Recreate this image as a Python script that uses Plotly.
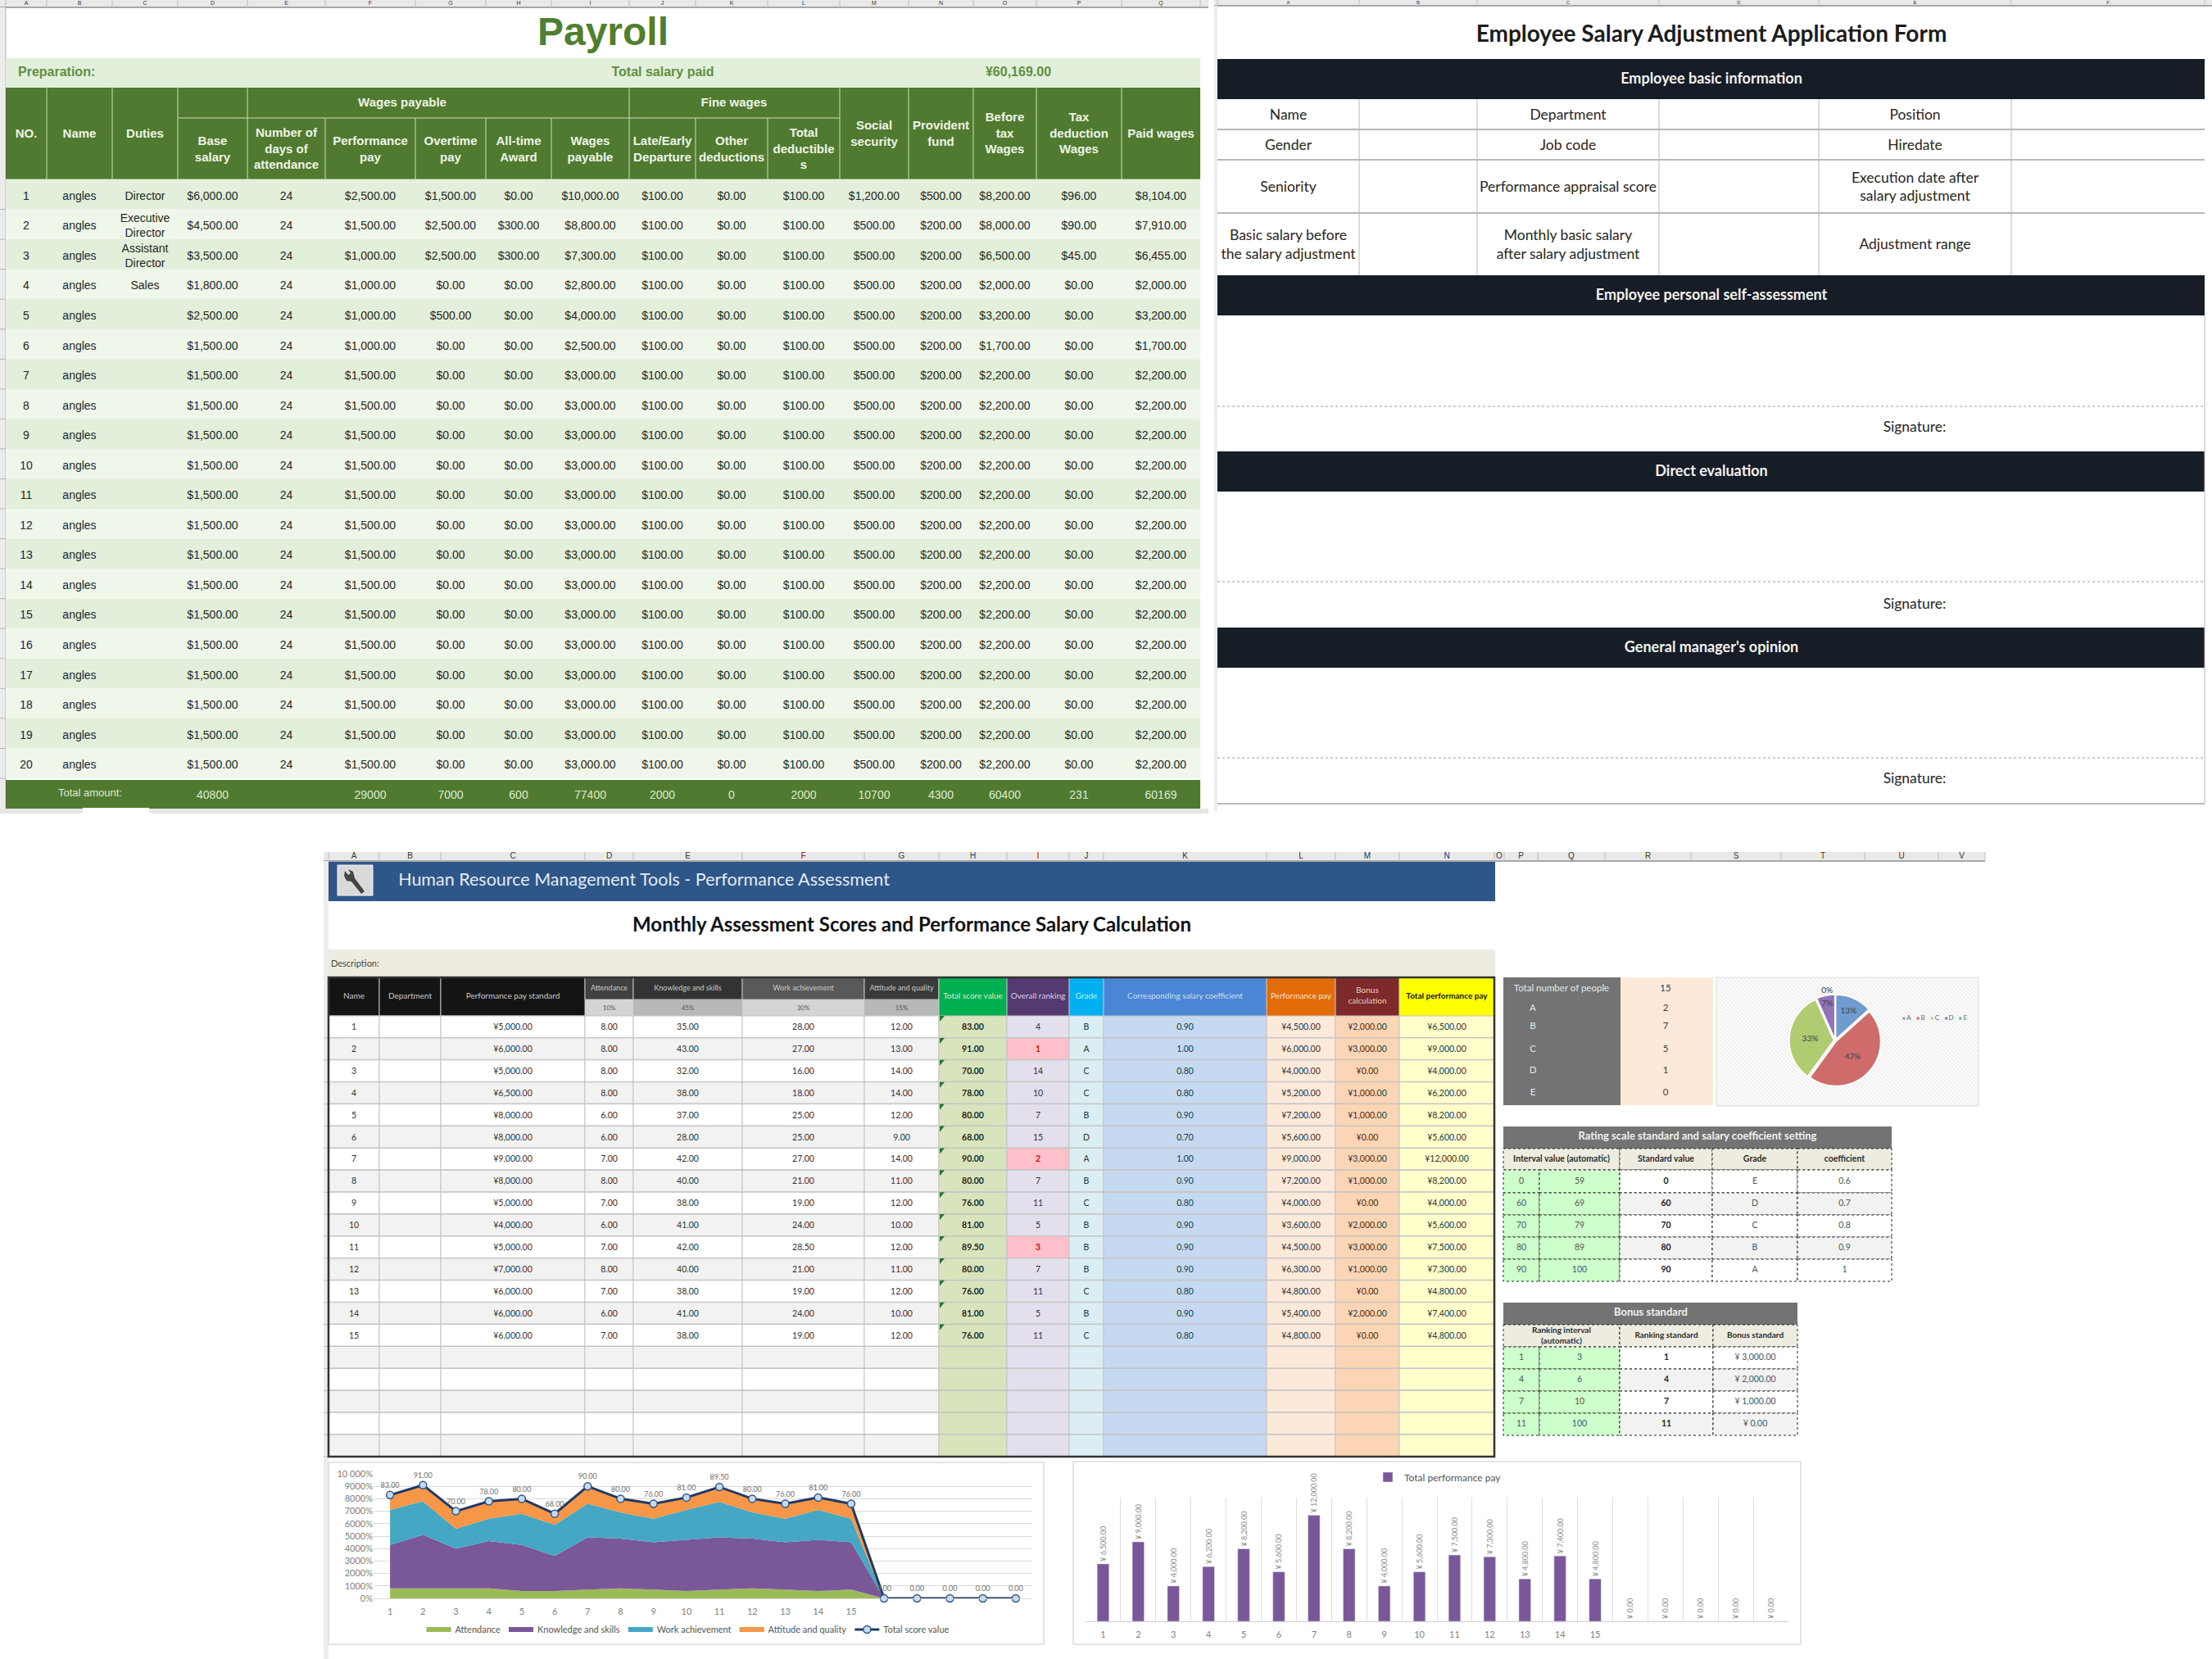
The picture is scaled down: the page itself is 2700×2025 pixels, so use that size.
import plotly.graph_objects as go

# ---- payroll sheet data
duties = ["Director", "Executive<br>Director", "Assistant<br>Director", "Sales"]
base_salary = [6000, 4500, 3500, 1800, 2500, 1500, 1500, 1500, 1500, 1500, 1500, 1500, 1500, 1500, 1500, 1500, 1500, 1500, 1500, 1500]
perf_pay = [2500, 1500, 1000, 1000, 1000, 1000, 1500, 1500, 1500, 1500, 1500, 1500, 1500, 1500, 1500, 1500, 1500, 1500, 1500, 1500]
overtime = [1500, 2500, 2500, 0, 500, 0, 0, 0, 0, 0, 0, 0, 0, 0, 0, 0, 0, 0, 0, 0]
alltime = [0, 300, 300, 0, 0, 0, 0, 0, 0, 0, 0, 0, 0, 0, 0, 0, 0, 0, 0, 0]
wages_payable = [10000, 8800, 7300, 2800, 4000, 2500, 3000, 3000, 3000, 3000, 3000, 3000, 3000, 3000, 3000, 3000, 3000, 3000, 3000, 3000]
social = [1200, 500, 500, 500, 500, 500, 500, 500, 500, 500, 500, 500, 500, 500, 500, 500, 500, 500, 500, 500]
fund = [500, 200, 200, 200, 200, 200, 200, 200, 200, 200, 200, 200, 200, 200, 200, 200, 200, 200, 200, 200]
before_tax = [8200, 8000, 6500, 2000, 3200, 1700, 2200, 2200, 2200, 2200, 2200, 2200, 2200, 2200, 2200, 2200, 2200, 2200, 2200, 2200]
tax = [96, 90, 45, 0, 0, 0, 0, 0, 0, 0, 0, 0, 0, 0, 0, 0, 0, 0, 0, 0]
paid = [8104, 7910, 6455, 2000, 3200, 1700, 2200, 2200, 2200, 2200, 2200, 2200, 2200, 2200, 2200, 2200, 2200, 2200, 2200, 2200]
payroll_totals = ["40800", "", "29000", "7000", "600", "77400", "2000", "0", "2000", "10700", "4300", "60400", "231", "60169"]

# ---- assessment sheet data
pay_standard = [5000, 6000, 5000, 6500, 8000, 8000, 9000, 8000, 5000, 4000, 5000, 7000, 6000, 6000, 6000]
attendance = [8, 8, 8, 8, 6, 6, 7, 8, 7, 6, 7, 8, 7, 6, 7]
knowledge = [35, 43, 32, 38, 37, 28, 42, 40, 38, 41, 42, 40, 38, 41, 38]
achievement = [28, 27, 16, 18, 25, 25, 27, 21, 19, 24, 28.5, 21, 19, 24, 19]
attitude = [12, 13, 14, 14, 12, 9, 14, 11, 12, 10, 12, 11, 12, 10, 12]
total_score = [83, 91, 70, 78, 80, 68, 90, 80, 76, 81, 89.5, 80, 76, 81, 76]
ranking = [4, 1, 14, 10, 7, 15, 2, 7, 11, 5, 3, 7, 11, 5, 11]
grade = ["B", "A", "C", "C", "B", "D", "A", "B", "C", "B", "B", "B", "C", "B", "C"]
coefficient = [0.9, 1.0, 0.8, 0.8, 0.9, 0.7, 1.0, 0.9, 0.8, 0.9, 0.9, 0.9, 0.8, 0.9, 0.8]
performance = [4500, 6000, 4000, 5200, 7200, 5600, 9000, 7200, 4000, 3600, 4500, 6300, 4800, 5400, 4800]
bonus = [2000, 3000, 0, 1000, 1000, 0, 3000, 1000, 0, 2000, 3000, 1000, 0, 2000, 0]
total_pay = [6500, 9000, 4000, 6200, 8200, 5600, 12000, 8200, 4000, 5600, 7500, 7300, 4800, 7400, 4800]
blank_rows = [0, 0, 0, 0, 0]

grade_names = ["A", "B", "C", "D", "E"]
grade_counts = [2, 7, 5, 1, 0]
grade_colors = ["#6f9bd0", "#cf6b6b", "#b0cb70", "#9273b5", "#4bacc6"]
rating_low = [0, 60, 70, 80, 90]
rating_high = [59, 69, 79, 89, 100]
rating_std = [0, 60, 70, 80, 90]
rating_grade = ["E", "D", "C", "B", "A"]
rating_coef = ["0.6", "0.7", "0.8", "0.9", "1"]
bonus_low = [1, 4, 7, 11]
bonus_high = [3, 6, 10, 100]
bonus_std = [1, 4, 7, 11]
bonus_money = [3000, 2000, 1000, 0]

W, H = 2700, 2025
ARIAL = "Liberation Sans"
LATO = "Lato"

shapes = []
tx, ty, tt, ts, tc, tf, tp = [], [], [], [], [], [], []


def rect(x0, y0, x1, y1, fill=None, line=None, width=1, dash=None):
    s = dict(type="rect", x0=x0, y0=y0, x1=x1, y1=y1, xref="x", yref="y", layer="below", line=dict(width=0))
    if fill:
        s["fillcolor"] = fill
    if line:
        s["line"] = dict(color=line, width=width)
        if dash:
            s["line"]["dash"] = dash
    shapes.append(s)


def seg(x0, y0, x1, y1, color, width=1, dash=None):
    ln = dict(color=color, width=width)
    if dash:
        ln["dash"] = dash
    shapes.append(dict(type="line", x0=x0, y0=y0, x1=x1, y1=y1, xref="x", yref="y", layer="below", line=ln))


def label(x, y, s, size, color="#222222", font=LATO, bold=False, pos="middle center"):
    tx.append(x)
    ty.append(y)
    tt.append("<b>" + s + "</b>" if bold else s)
    ts.append(size)
    tc.append(color)
    tf.append(font)
    tp.append(pos)


def column_strip(x0, x1, y0, y1, edges, letters, size=11):
    rect(x0, y0, x1, y1, fill="#e9e9e9")
    seg(x0, y1, x1, y1, "#8c8c8c", 1.5)
    for a in edges:
        seg(a, y0, a, y1, "#bdbdbd")
    for a, b, c in zip(edges[:-1], edges[1:], letters):
        label((a + b) / 2, (y0 + y1) / 2, c, size, "#333333", ARIAL)


# ---- payroll sheet
pc = [7, 57, 137, 217, 302, 397, 507, 593, 673, 768, 849, 937, 1025, 1109, 1188, 1265, 1369, 1465]
GREEN = "#507a2f"
column_strip(0, 1475, 0, 9, pc[:-1] + [1465], list("ABCDEFGHIJKLMNOPQ"), 7)
rect(0, 9, 7, 990, fill="#ececec")
seg(7, 9, 7, 990, "#b5b5b5")
rect(7, 71, 1465, 107, fill="#e2efda")
label(736, 43, "<b>Payroll</b>", 48, "#4f7f2f", ARIAL)
label(22, 89, "Preparation:", 16, "#5f8f3e", ARIAL, True, "middle right")
label(809, 89, "Total salary paid", 16, "#5f8f3e", ARIAL, True)
label(1243, 89, "¥60,169.00", 16, "#5f8f3e", ARIAL, True)
rect(7, 107, 1465, 219, fill=GREEN)
HL = "#c9dfb8"
for a in pc[1:-1]:
    if a in (397, 507, 593, 673, 849, 937):
        seg(a, 144, a, 219, HL)
    else:
        seg(a, 107, a, 219, HL)
seg(217, 144, 1025, 144, HL)
seg(7, 219, 1465, 219, HL)
for a, b, s in [(7, 57, "NO."), (57, 137, "Name"), (137, 217, "Duties"), (1369, 1465, "Paid wages"), (1109, 1188, "Provident<br>fund"),
                (1025, 1109, "Social<br>security"), (1188, 1265, "Before<br>tax<br>Wages"), (1265, 1369, "Tax<br>deduction<br>Wages")]:
    label((a + b) / 2, 164, s, 15, "#eef5e6", ARIAL, True)
label(491, 126, "Wages payable", 15, "#eef5e6", ARIAL, True)
label(896, 126, "Fine wages", 15, "#eef5e6", ARIAL, True)
sub_heads = ["Base<br>salary", "Number of<br>days of<br>attendance", "Performance<br>pay", "Overtime<br>pay", "All-time<br>Award",
             "Wages<br>payable", "Late/Early<br>Departure", "Other<br>deductions", "Total<br>deductible<br>s"]
for a, b, s in zip(pc[3:12], pc[4:13], sub_heads):
    label((a + b) / 2, 183, s, 15, "#eef5e6", ARIAL, True)

ROW = 36.55
for i in range(20):
    y0 = 219 + i * ROW
    yc = y0 + ROW / 2 + 3
    rect(7, y0, 1465, y0 + ROW, fill="#e2efda" if i % 2 == 0 else "#eff6ea")
    seg(0, y0 + ROW, 7, y0 + ROW, "#b5b5b5")
    row_text = [str(i + 1), "angles", duties[i] if i < len(duties) else "",
                f"${base_salary[i]:,.2f}", "24", f"${perf_pay[i]:,.2f}", f"${overtime[i]:,.2f}", f"${alltime[i]:,.2f}",
                f"${wages_payable[i]:,.2f}", "$100.00", "$0.00", "$100.00", f"${social[i]:,.2f}", f"${fund[i]:,.2f}",
                f"${before_tax[i]:,.2f}", f"${tax[i]:,.2f}", f"${paid[i]:,.2f}"]
    for a, b, s in zip(pc[:-1], pc[1:], row_text):
        if s:
            label((a + b) / 2, yc, s, 14, "#262626", ARIAL)
rect(7, 952, 1465, 987, fill=GREEN)
label(110, 969, "Total amount:", 13, "#dfead3", ARIAL)
for a, b, s in zip(pc[3:-1], pc[4:], payroll_totals):
    if s:
        label((a + b) / 2, 971, s, 14, "#dfead3", ARIAL)
rect(0, 987, 1475, 993, fill="#e6e6e6")
rect(101, 986, 182, 993, fill="#ffffff")

# ---- salary adjustment form
fc = [1486, 1659, 1803, 2025, 2220, 2455, 2691]
column_strip(1482, 2700, 0, 7, fc, list("ABCDEF"), 6)
rect(1482, 7, 1486, 990, fill="#ececec")
label(2089, 44, "Employee Salary Adjustment Application Form", 28, "#1c1c1c", LATO, True)
DARK = "#171d26"
GRID = "#b8b8b8"
bands = [(72, 121, "Employee basic information"), (336, 385, "Employee personal self-assessment"),
         (551, 600, "Direct evaluation"), (766, 815, "General manager's opinion")]
for y0, y1, s in bands:
    rect(1486, y0, 2691, y1, fill=DARK)
    label(2089, (y0 + y1) / 2 + 1, s, 18, "#f2f2f2", LATO, True)
form_rows = [121, 158, 195, 260, 336]
form_labels = [["Name", "Department", "Position"], ["Gender", "Job code", "Hiredate"],
               ["Seniority", "Performance appraisal score", "Execution date after<br>salary adjustment"],
               ["Basic salary before<br>the salary adjustment", "Monthly basic salary<br>after salary adjustment", "Adjustment range"]]
for y in form_rows[1:-1]:
    seg(1486, y, 2691, y, GRID, 2)
for a in fc[1:-1]:
    seg(a, 121, a, 336, GRID)
for r, names in enumerate(form_labels):
    yc = (form_rows[r] + form_rows[r + 1]) / 2 + 2
    for k, s in enumerate(names):
        label((fc[k * 2] + fc[k * 2 + 1]) / 2, yc, s, 17.5, "#262626", LATO)
for dash_y, sign_y in [(496, 523), (710, 739), (925, 952)]:
    seg(1486, dash_y, 2691, dash_y, "#9a9a9a", 1, "dot")
    label(2337, sign_y, "Signature:", 17.5, "#262626", LATO)
seg(1486, 981, 2691, 981, GRID, 2)
seg(2691, 385, 2691, 981, GRID)

# ---- assessment sheet
ac = [401, 463, 538, 714, 773, 906, 1055, 1146, 1229, 1305, 1347, 1546, 1630, 1708, 1824]
column_strip(395, 2423, 1040, 1051, ac + [1836, 1877, 1959, 2064, 2174, 2276, 2366, 2423], list("ABCDEFGHIJKLMNOPQRSTUV"), 10)
rect(395, 1051, 401, 2025, fill="#ececec")
rect(401, 1052, 1825, 1100, fill="#2f5688")
rect(412, 1056, 455, 1093, fill="#d9d9d9", line="#f5f5f5", width=1)
shapes.append(dict(type="path", xref="x", yref="y", layer="below", fillcolor="#454545", line=dict(width=0),
                   path="M421 1063 L425 1068 L428 1066 L425 1061 L431 1064 L433 1072 L445 1088 L441 1091 L429 1076 L423 1075 L420 1069 Z"))
label(786, 1076, "Human Resource Management Tools - Performance Assessment", 21.5, "#e3ebf5", LATO)
label(1113, 1131, "Monthly Assessment Scores and Performance Salary Calculation", 24, "#111111", LATO, True)
rect(401, 1159, 1825, 1192, fill="#eeece1")
label(404, 1177, "Description:", 11, "#444444", LATO, False, "middle right")

HY0, HY1, HY2 = 1193, 1220, 1240
for k, s in enumerate(["Name", "Department", "Performance pay standard"]):
    rect(ac[k], HY0, ac[k + 1], HY2, fill="#141414", line="#bdbdbd")
    label((ac[k] + ac[k + 1]) / 2, 1216, s, 10, "#c9c9c9")
score_heads = ["Attendance", "Knowledge and skills", "Work achievement", "Attitude and quality"]
score_pct = ["10%", "45%", "30%", "15%"]
top_fill = ["#404040", "#333333", "#595959", "#3a3a3a"]
low_fill = ["#d4d4d4", "#b8b8b8", "#d4d4d4", "#b8b8b8"]
for k in range(4):
    a, b = ac[3 + k], ac[4 + k]
    rect(a, HY0, b, HY1, fill=top_fill[k], line="#bdbdbd")
    rect(a, HY1, b, HY2, fill=low_fill[k])
    label((a + b) / 2, 1207, score_heads[k], 9, "#c9c9c9")
    label((a + b) / 2, 1231, score_pct[k], 8, "#555555")
right_heads = [("Total score value", "#00b050", "#d5f0d5"), ("Overall ranking", "#543a6e", "#d9cfe6"), ("Grade", "#00b0f0", "#c9ecfa"),
               ("Corresponding salary coefficient", "#4a86d4", "#cfdff5"), ("Performance pay", "#e36c0a", "#fbe3cf"),
               ("Bonus<br>calculation", "#7f2a2a", "#e8caca"), ("Total performance pay", "#ffff00", "#111111")]
for k, (s, fill, txt) in enumerate(right_heads):
    a, b = ac[7 + k], ac[8 + k]
    rect(a, HY0, b, HY2, fill=fill)
    seg(a, HY0, a, HY2, "#d0d0d0")
    label((a + b) / 2, 1216, s, 10, txt, LATO, k == 6)

col_fill = ["#d8e4bc", "#e4dfec", "#daeef3", "#c5d9f1", "#fde9d9", "#fcd5b4", "#ffffcc"]
R2 = 26.9
for i in range(20):
    y0 = HY2 + i * R2
    y1 = y0 + R2
    yc = (y0 + y1) / 2 + 1
    for k in range(7):
        rect(ac[k], y0, ac[k + 1], y1, fill="#ffffff" if i % 2 == 0 else "#f2f2f2", line="#c4c4c4", width=1)
    for k in range(7):
        fill = col_fill[k]
        if k == 1 and i < 15 and ranking[i] <= 3:
            fill = "#ffc0cb"
        rect(ac[7 + k], y0, ac[8 + k], y1, fill=fill, line="#c4c4c4", width=1)
    seg(401, y1, 1824, y1, "#c4c4c4", 2)
    seg(395, y1, 401, y1, "#bdbdbd")
    if i >= 15:
        continue
    shapes.append(dict(type="path", xref="x", yref="y", layer="below", fillcolor="#1a7a30", line=dict(width=0),
                       path=f"M1147 {y0:.1f} L1153 {y0:.1f} L1147 {y0 + 7:.1f} Z"))
    cells = [str(i + 1), "", f"¥{pay_standard[i]:,.2f}", f"{attendance[i]:.2f}", f"{knowledge[i]:.2f}", f"{achievement[i]:.2f}",
             f"{attitude[i]:.2f}", f"{total_score[i]:.2f}", str(ranking[i]), grade[i], f"{coefficient[i]:.2f}",
             f"¥{performance[i]:,.2f}", f"¥{bonus[i]:,.2f}", f"¥{total_pay[i]:,.2f}"]
    for k, s in enumerate(cells):
        if not s:
            continue
        color, bold = "#333333", False
        if k == 7:
            color, bold = "#262626", True
        if k == 8 and ranking[i] <= 3:
            color, bold = "#d01010", True
        label((ac[k] + ac[k + 1]) / 2, yc, s, 10.5, color, LATO, bold)
rect(401, HY0, 1824, 1778, line="#333333", width=2.5)

# ---- grade count panel
rect(1835, 1193, 1978, 1349, fill="#737373")
rect(1978, 1193, 2091, 1349, fill="#fde9d9")
panel_y = [1207, 1231, 1253, 1281, 1307, 1334]
label(1906, panel_y[0], "Total number of people", 11.5, "#e8e8e8")
label(2033, panel_y[0], str(sum(grade_counts)), 11.5, "#404040")
for g, n, y in zip(grade_names, grade_counts, panel_y[1:]):
    label(1871, y, g, 11.5, "#e8e8e8")
    label(2033, y, str(n), 11.5, "#404040")

# hatched pie background
bx0, by0, bx1, by1 = 2095, 1193, 2415, 1350
rect(bx0, by0, bx1, by1, fill="#fafafa", line="#d9d9d9", width=1)
hatch = []
for c in range(bx0 - (by1 - by0), bx1, 5):
    xa, ya = max(c, bx0), by0 + max(bx0 - c, 0)
    xb = min(c + by1 - by0, bx1)
    yb = by0 + (xb - c)
    hatch.append(f"M{xa} {ya} L{xb} {yb}")
shapes.append(dict(type="path", xref="x", yref="y", layer="below", path=" ".join(hatch), line=dict(color="#e6e6e6", width=1)))

# small legend for the pie, legend entries in plotly are too wide for this box
for k, (g, color) in enumerate(zip(grade_names, grade_colors)):
    lx = 2324 + k * 17.2
    rect(lx - 1.5, 1241.5, lx + 1.5, 1244.5, fill=color)
    label(lx + 6, 1243, g, 8, "#666666")

# ---- rating scale table
rate_x = [1835, 1879, 1977, 2090, 2194, 2309]
rate_y = [1402, 1428, 1456, 1483, 1510, 1537, 1564]
rect(1835, 1375, 2309, 1402, fill="#737373")
label(2072, 1388, "Rating scale standard and salary coefficient setting", 13, "#f0f0f0", LATO, True)
DOT = dict(line="#222222", width=1, dash="dot")
for a, b, s in [(0, 2, "Interval value (automatic)"), (2, 3, "Standard value"), (3, 4, "Grade"), (4, 5, "coefficient")]:
    rect(rate_x[a], rate_y[0], rate_x[b], rate_y[1], fill="#eeece1", **DOT)
    label((rate_x[a] + rate_x[b]) / 2, (rate_y[0] + rate_y[1]) / 2, s, 10.5, "#2b2b2b", LATO, True)
for i in range(5):
    y0, y1 = rate_y[i + 1], rate_y[i + 2]
    row = [str(rating_low[i]), str(rating_high[i]), str(rating_std[i]), rating_grade[i], rating_coef[i]]
    for k, s in enumerate(row):
        fill = "#ccffcc" if k < 2 else ("#ffffff" if i % 2 == 0 else "#f2f2f2")
        rect(rate_x[k], y0, rate_x[k + 1], y1, fill=fill, **DOT)
        label((rate_x[k] + rate_x[k + 1]) / 2, (y0 + y1) / 2, s, 10.5, "#222222" if k == 2 else "#555555", LATO, k == 2)

# ---- bonus table
bon_x = [1835, 1879, 1977, 2091, 2194]
bon_y = [1617, 1644, 1671, 1698, 1725, 1752]
rect(1835, 1590, 2194, 1617, fill="#737373")
label(2015, 1603, "Bonus standard", 13, "#f0f0f0", LATO, True)
for a, b, s in [(0, 2, "Ranking interval<br>(automatic)"), (2, 3, "Ranking standard"), (3, 4, "Bonus standard")]:
    rect(bon_x[a], bon_y[0], bon_x[b], bon_y[1], fill="#eeece1", **DOT)
    label((bon_x[a] + bon_x[b]) / 2, (bon_y[0] + bon_y[1]) / 2, s, 10, "#2b2b2b", LATO, True)
for i in range(4):
    y0, y1 = bon_y[i + 1], bon_y[i + 2]
    row = [str(bonus_low[i]), str(bonus_high[i]), str(bonus_std[i]), f"¥ {bonus_money[i]:,.2f}"]
    for k, s in enumerate(row):
        fill = "#ccffcc" if k < 2 else ("#ffffff" if i % 2 == 0 else "#f2f2f2")
        rect(bon_x[k], y0, bon_x[k + 1], y1, fill=fill, **DOT)
        label((bon_x[k] + bon_x[k + 1]) / 2, (y0 + y1) / 2, s, 10.5, "#222222" if k == 2 else "#555555", LATO, k == 2)

# chart frames
rect(401, 1785, 1274, 2007, fill="#ffffff", line="#dcdcdc", width=1.5)
rect(1310, 1784, 2198, 2007, fill="#ffffff", line="#dcdcdc", width=1.5)

fig = go.Figure()
fig.add_trace(go.Scatter(x=tx, y=ty, text=tt, mode="text", textposition=tp, showlegend=False, hoverinfo="skip",
                         textfont=dict(size=ts, color=tc, family=tf), cliponaxis=False))

# ---- stacked area chart
cats = list(range(1, 21))
area_series = [("Attendance", attendance, "#9bbb59"), ("Knowledge and skills", knowledge, "#7a5799"),
               ("Work achievement", achievement, "#46a7c4"), ("Attitude and quality", attitude, "#f79646")]
for name, vals, color in area_series:
    fig.add_trace(go.Scatter(x=cats, y=vals + blank_rows, name=name, mode="none", stackgroup="one", fillcolor=color,
                             xaxis="x2", yaxis="y2", legend="legend"))
fig.add_trace(go.Scatter(x=cats, y=total_score + blank_rows, name="Total score value", mode="lines+markers+text",
                         text=[f"{v:.2f}" for v in total_score + blank_rows], textposition="top center",
                         textfont=dict(size=9, color="#6f6f6f", family=LATO), cliponaxis=False,
                         line=dict(color="#1f3864", width=3),
                         marker=dict(size=9, color="#c5d9f1", line=dict(color="#2f5688", width=1.5)),
                         xaxis="x2", yaxis="y2", legend="legend"))

# ---- bar chart
fig.add_trace(go.Bar(x=cats, y=total_pay + blank_rows, name="Total performance pay", marker_color="#7a5799", width=0.34,
                     text=[f"¥ {v:,.2f}" for v in total_pay + blank_rows], textposition="outside", textangle=-90,
                     constraintext="none", textfont=dict(size=9, color="#8a8a8a", family=LATO), cliponaxis=False,
                     xaxis="x3", yaxis="y3", legend="legend2"))

# ---- pie
fig.add_trace(go.Pie(labels=grade_names, values=grade_counts, sort=False, direction="clockwise", rotation=0,
                     domain=dict(x=[2184 / W, 2296 / W], y=[1 - 1326 / H, 1 - 1214 / H]),
                     marker=dict(colors=grade_colors, line=dict(color="#ffffff", width=1.5)),
                     pull=[0.03, 0.03, 0.03, 0.03, 0.03], textinfo="percent", texttemplate="%{percent:.0%}",
                     textposition=["inside", "inside", "inside", "inside", "outside"], insidetextorientation="horizontal",
                     textfont=dict(size=10, color="#404040", family=LATO), showlegend=False, automargin=False))


def dom_x(a, b):
    return [a / W, b / W]


def dom_y(top, bottom):
    return [1 - bottom / H, 1 - top / H]


grey_tick = dict(size=11, color="#7f7f7f", family=LATO)
fig.update_layout(
    width=W, height=H, margin=dict(l=0, r=0, t=0, b=0, autoexpand=False), paper_bgcolor="#ffffff", plot_bgcolor="rgba(0,0,0,0)",
    shapes=shapes, barmode="overlay",
    xaxis=dict(domain=[0, 1], range=[0, W], visible=False, fixedrange=True),
    yaxis=dict(domain=[0, 1], range=[H, 0], visible=False, fixedrange=True),
    xaxis2=dict(domain=dom_x(456, 1260), range=[0.5, 20.5], anchor="y2", tickvals=cats[:15], ticktext=[str(c) for c in cats[:15]],
                tickfont=grey_tick, showgrid=False, zeroline=False, ticks="outside", ticklen=6, tickcolor="rgba(0,0,0,0)",
                showline=True, linecolor="#d9d9d9"),
    yaxis2=dict(domain=dom_y(1799, 1951), range=[0, 100], anchor="x2", tickvals=[0, 10, 20, 30, 40, 50, 60, 70, 80, 90, 100],
                ticktext=["0%", "1000%", "2000%", "3000%", "4000%", "5000%", "6000%", "7000%", "8000%", "9000%", "10 000%"],
                tickfont=grey_tick, gridcolor="#d9d9d9", zeroline=False, showline=False),
    xaxis3=dict(domain=dom_x(1325, 2183), range=[0.5, 20.5], anchor="y3", tickvals=cats[:15], ticktext=[str(c) for c in cats[:15]],
                tickfont=grey_tick, showgrid=False, zeroline=False, ticks="outside", ticklen=6, tickcolor="rgba(0,0,0,0)",
                showline=True, linecolor="#cfcfcf",
                minor=dict(tickmode="linear", tick0=0.5, dtick=1, showgrid=True, gridcolor="#dedede", ticks="")),
    yaxis3=dict(domain=dom_y(1828, 1979), range=[0, 14000], anchor="x3", visible=False),
    legend=dict(orientation="h", x=840 / W, xanchor="center", y=1 - 1989 / H, yanchor="middle", font=dict(size=11, color="#555555", family=LATO),
                bgcolor="rgba(0,0,0,0)", traceorder="normal"),
    legend2=dict(orientation="h", x=1756 / W, xanchor="center", y=1 - 1803 / H, yanchor="middle", font=dict(size=12, color="#555555", family=LATO),
                 bgcolor="rgba(0,0,0,0)"),
)

# the browser's default 8px body margin would push the whole page off position
fig.write_html("out.html", config={"displayModeBar": False}, post_script="document.body.style.margin='0';")
